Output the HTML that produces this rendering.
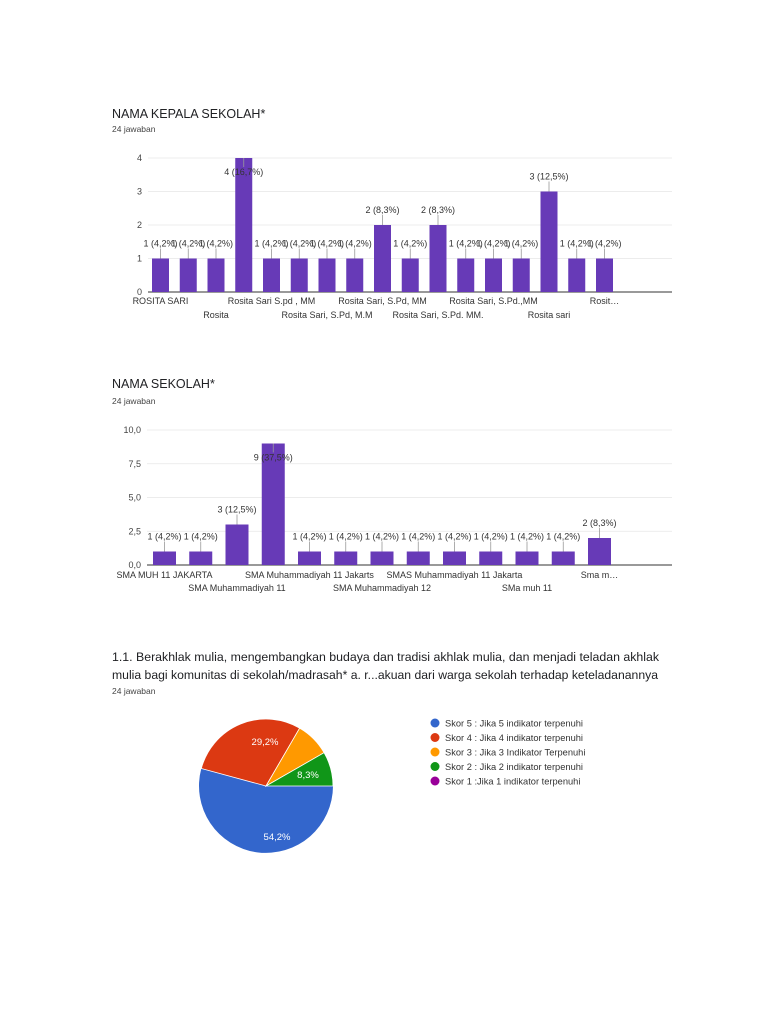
<!DOCTYPE html>
<html><head><meta charset="utf-8"><style>
body{margin:0;background:#fff;width:768px;height:1024px;overflow:hidden;font-family:"Liberation Sans",sans-serif;}
svg{position:absolute;left:0;top:0}
</style></head><body>
<svg id="s" width="768" height="1024" xmlns="http://www.w3.org/2000/svg" font-family="Liberation Sans, sans-serif">
<text x="112" y="118" font-size="12.5" fill="#202124">NAMA KEPALA SEKOLAH*</text>
<text x="112" y="132" font-size="8.5" fill="#444">24 jawaban</text>
<text x="112" y="388" font-size="12.5" fill="#202124">NAMA SEKOLAH*</text>
<text x="112" y="404" font-size="8.5" fill="#444">24 jawaban</text>
<text x="112" y="661" font-size="12.3" fill="#202124" textLength="547" lengthAdjust="spacingAndGlyphs">1.1. Berakhlak mulia, mengembangkan budaya dan tradisi akhlak mulia, dan menjadi teladan akhlak</text>
<text x="112" y="679" font-size="12.3" fill="#202124" textLength="546" lengthAdjust="spacingAndGlyphs">mulia bagi komunitas di sekolah/madrasah* a.    r...akuan dari warga sekolah terhadap keteladanannya</text>
<text x="112" y="694" font-size="8.5" fill="#444">24 jawaban</text>
<path d="M266,786 L333,786 A67,67 0 1 1 201.3,768.5 Z" fill="#3366cc"/>
<path d="M266,786 L201.3,768.5 A67,67 0 0 1 299.7,728.1 Z" fill="#dc3912" stroke="#fff" stroke-width="0.8"/>
<path d="M266,786 L299.7,728.1 A67,67 0 0 1 324.1,752.7 Z" fill="#ff9900" stroke="#fff" stroke-width="0.8"/>
<path d="M266,786 L324.1,752.7 A67,67 0 0 1 333,786 Z" fill="#109618" stroke="#fff" stroke-width="0.8"/>
<text x="265" y="745" font-size="9.5" fill="#fff" text-anchor="middle">29,2%</text>
<text x="308" y="778" font-size="9.5" fill="#fff" text-anchor="middle">8,3%</text>
<text x="277" y="840" font-size="9.5" fill="#fff" text-anchor="middle">54,2%</text>
<g font-size="9.3" fill="#333">
<circle cx="435" cy="723" r="4.5" fill="#3366cc"/><text x="445" y="726.5">Skor 5 : Jika 5 indikator terpenuhi</text>
<circle cx="435" cy="737.5" r="4.5" fill="#dc3912"/><text x="445" y="741">Skor 4 : Jika 4 indikator terpenuhi</text>
<circle cx="435" cy="752" r="4.5" fill="#ff9900"/><text x="445" y="755.5">Skor 3 : Jika 3 Indikator Terpenuhi</text>
<circle cx="435" cy="766.5" r="4.5" fill="#109618"/><text x="445" y="770">Skor 2 : Jika 2 indikator terpenuhi</text>
<circle cx="435" cy="781" r="4.5" fill="#990099"/><text x="445" y="784.5">Skor 1 :Jika 1 indikator terpenuhi</text>
</g>
</svg>
<script>
var s=document.getElementById('s'),NS='http://www.w3.org/2000/svg';
function el(t,a,txt){var e=document.createElementNS(NS,t);for(var k in a)e.setAttribute(k,a[k]);if(txt!=null)e.textContent=txt;s.appendChild(e);return e;}
function chart(o){
 for(var i=0;i<o.ticks.length;i++){var y=o.y0-o.ticks[i][0]*o.unit;
  el('line',{x1:o.px,x2:672,y1:y,y2:y,stroke:i==0?'#333':'#e6e6e6','stroke-width':i==0?1:0.8});
  el('text',{x:o.px-6,y:y+3,'font-size':9,fill:'#444','text-anchor':'end'},o.ticks[i][1]);}
 for(var i=0;i<o.v.length;i++){var x=o.x0+i*o.p,v=o.v[i],h=v*o.unit,top=o.y0-h,cx=x+o.w/2;
  el('rect',{x:x,y:top,width:o.w,height:h,fill:'#673ab7'});
  var big=o.big&&v==o.big;var ly=big?top+17:top-12;
  el('line',{x1:cx,x2:cx,y1:big?top:ly+2,y2:big?ly-8:top,stroke:'#999','stroke-width':0.8});
  el('text',{x:cx,y:ly,'font-size':9,fill:'#333','text-anchor':'middle'},o.lab[i]);
  if(o.xl[i])el('text',{x:cx,y:(o.row2.indexOf(i)>=0?o.r2:o.r1),'font-size':9,fill:'#333','text-anchor':'middle'},o.xl[i]);}
}
var l1=[1,1,1,4,1,1,1,1,2,1,2,1,1,1,3,1,1];
chart({v:l1,x0:152,p:27.75,w:17,y0:292,unit:33.5,px:148,big:4,
 ticks:[[0,'0'],[1,'1'],[2,'2'],[3,'3'],[4,'4']],
 lab:l1.map(function(v){return {1:'1 (4,2%)',2:'2 (8,3%)',3:'3 (12,5%)',4:'4 (16,7%)'}[v]}),
 xl:{0:'ROSITA SARI',2:'Rosita',4:'Rosita Sari S.pd , MM',6:'Rosita Sari, S.Pd, M.M',8:'Rosita Sari, S.Pd, MM',10:'Rosita Sari, S.Pd. MM.',12:'Rosita Sari, S.Pd.,MM',14:'Rosita sari',16:'Rosit…'},
 row2:[2,6,10,14],r1:304,r2:318});
var l2=[1,1,3,9,1,1,1,1,1,1,1,1,2];
chart({v:l2,x0:153,p:36.25,w:23,y0:565,unit:13.5,px:147,big:9,
 ticks:[[0,'0,0'],[2.5,'2,5'],[5,'5,0'],[7.5,'7,5'],[10,'10,0']],
 lab:l2.map(function(v){return {1:'1 (4,2%)',2:'2 (8,3%)',3:'3 (12,5%)',9:'9 (37,5%)'}[v]}),
 xl:{0:'SMA MUH 11 JAKARTA',2:'SMA Muhammadiyah 11',4:'SMA Muhammadiyah 11 Jakarts',6:'SMA Muhammadiyah 12',8:'SMAS Muhammadiyah 11 Jakarta',10:'SMa muh 11',12:'Sma m…'},
 row2:[2,6,10],r1:578,r2:591});
</script>
</body></html>
